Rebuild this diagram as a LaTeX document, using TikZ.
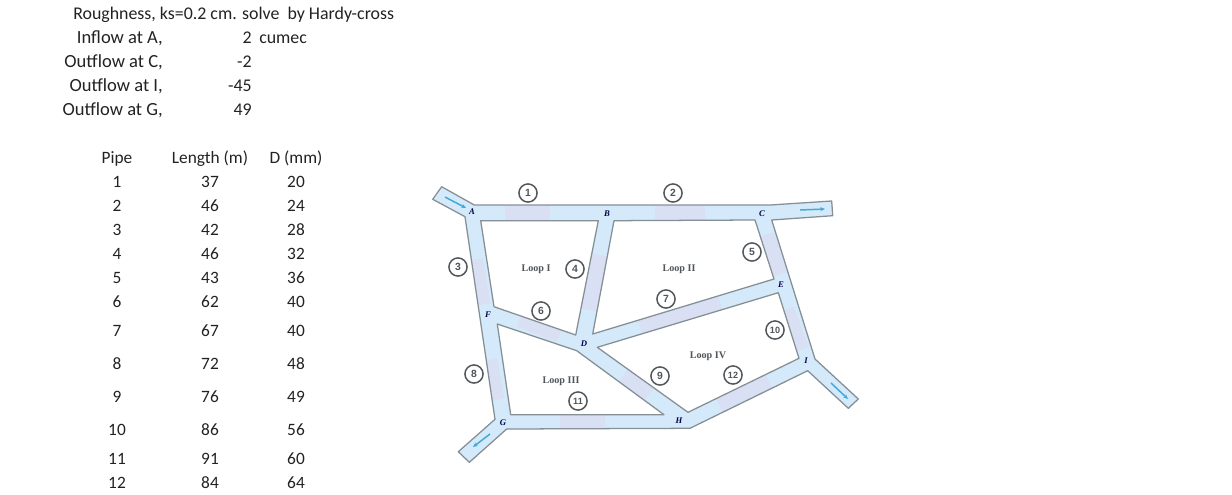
\documentclass[tikz,border=0pt]{standalone}
\usepackage{fontspec}
\setmainfont{Carlito}
\newfontfamily\figserif{Liberation Serif}
\newfontfamily\figsans{Liberation Sans}
\usetikzlibrary{arrows.meta}
\definecolor{pipefill}{HTML}{D4E9F9}
\definecolor{pipepatch}{HTML}{D9E0F3}
\definecolor{pipeline}{HTML}{858F96}
\definecolor{flowblue}{HTML}{3FA9D8}
\definecolor{inktext}{HTML}{222222}
\definecolor{figtext}{HTML}{50555A}
\tikzset{
  txt/.style={inner sep=0pt,text=inktext,font=\fontsize{13}{15}\selectfont,anchor=base},
  htxt/.style={inner sep=0pt,text=inktext,font=\fontsize{13.4}{15}\selectfont,anchor=base},
  rtxt/.style={htxt,anchor=base east},
  ltxt/.style={htxt,anchor=base west},
  lbl/.style={rtxt,font=\fontsize{13.9}{15}\selectfont},
  pipeedge/.style={draw=pipeline,line width=0.95pt,line join=round},
  patch/.style={pipepatch,line width=14pt},
  numc/.style={circle,draw=figtext,line width=1.1pt,fill=white,minimum size=13.6pt,inner sep=0pt,text=figtext,font=\figsans\fontsize{7.8}{8}\bfseries\selectfont},
  numw/.style={numc,font=\figsans\fontsize{6.8}{8}\bfseries\selectfont},
  jlabel/.style={inner sep=0pt,text=black!70!blue,font=\figserif\fontsize{6.5}{7}\bfseries\itshape\selectfont},
  looplabel/.style={inner sep=0pt,text=figtext,font=\figserif\fontsize{7.6}{8}\bfseries\selectfont},
  flow/.style={draw=flowblue,line width=1.1pt,-{Stealth[length=3.5pt,width=3pt]}}
}
\begin{document}
\begin{tikzpicture}[x=0.75pt,y=-0.75pt]
\useasboundingbox (0,0) rectangle (1232,494);
% header
\node[ltxt] (title) at (73,19) {Roughness, ks=0.2 cm. solve\ \ by Hardy-cross};
\node[lbl] (l1) at (163,43) {Inflow at A,};
\node[rtxt] (v1) at (252,43) {2};
\node[ltxt] (u1) at (259,43) {cumec};
\node[lbl] (l2) at (163,67) {Outflow at C,};
\node[rtxt] (v2) at (252,67) {-2};
\node[lbl] (l3) at (163,91) {Outflow at I,};
\node[rtxt] (v3) at (252,91) {-45};
\node[lbl] (l4) at (163,115) {Outflow at G,};
\node[rtxt] (v4) at (252,115) {49};
% table
\node[txt] (hp) at (117,163) {Pipe};
\node[txt] (hl) at (210,163) {Length (m)};
\node[txt] (hd) at (296,163) {D (mm)};
\foreach \n/\len/\dia/\yy in {1/37/20/187,2/46/24/211,3/42/28/235,4/46/32/259,5/43/36/283,6/62/40/307,7/67/40/336,8/72/48/369,9/76/49/402,10/86/56/435,11/91/60/464,12/84/64/488}{
  \node[txt] (p\n) at (117,\yy) {\n};
  \node[txt] (len\n) at (210,\yy) {\len};
  \node[txt] (dia\n) at (296,\yy) {\dia};
}
% pipe network body, with its tinted stretches clipped to it
\begin{scope}
\clip (441.7,186.7) -- (474.3,205) -- (770,205) -- (831.7,201) -- (832.7,215.7) -- (771.7,220) -- (815,359) -- (858.3,399) -- (848.3,408.3) -- (807.7,370.7) -- (690,428.3) -- (506.7,429) -- (469.3,462.3) -- (458.3,451.7) -- (495,419.3) -- (465,216.7) -- (432.7,199.3) -- cycle;
\fill[pipefill] (420,170) rectangle (870,480);
\draw[patch] (505,213) -- (550,213);
\draw[patch] (655,213) -- (705,213);
\draw[patch] (474,260) -- (481,305);
\draw[patch] (600,255) -- (590,310);
\draw[patch] (765,235) -- (778,275);
\draw[patch] (520,318) -- (560,333);
\draw[patch] (640,327) -- (720,302);
\draw[patch] (488,360) -- (495,400);
\draw[patch] (625,373) -- (650,393);
\draw[patch] (785,310) -- (800,350);
\draw[patch] (560,422) -- (605,422);
\draw[patch] (720,407) -- (770,384);
\end{scope}
% outer outline
\draw[pipeedge] (432.7,199.3) -- (441.7,186.7) -- (474.3,205) -- (770,205) -- (831.7,201) -- (832.7,215.7) -- (771.7,220) -- (815,359) -- (858.3,399) -- (848.3,408.3) -- (807.7,370.7) -- (690,428.3) -- (506.7,429) -- (469.3,462.3) -- (458.3,451.7) -- (495,419.3) -- (465,216.7) -- cycle;
% loops
\draw[pipeedge,fill=white] (480.7,220.7) -- (598.3,220.7) -- (575.7,335) -- (494,306.7) -- cycle;
\draw[pipeedge,fill=white] (614,220.7) -- (755,220) -- (774,279) -- (592.7,334) -- cycle;
\draw[pipeedge,fill=white] (497.3,324) -- (576.7,350.7) -- (664,414.7) -- (510.7,414.7) -- cycle;
\draw[pipeedge,fill=white] (597.3,347.3) -- (778.3,292.7) -- (799,358.3) -- (688,412.3) -- cycle;
% flow arrows
\coordinate (inA1) at (445,197); \coordinate (inA2) at (466,208);
\coordinate (outC1) at (800,210); \coordinate (outC2) at (825,209);
\coordinate (outI1) at (831,383); \coordinate (outI2) at (848,399);
\coordinate (outG1) at (490,434); \coordinate (outG2) at (473,447);
\draw[flow] (inA1) -- (inA2);
\draw[flow] (outC1) -- (outC2);
\draw[flow] (outI1) -- (outI2);
\draw[flow] (outG1) -- (outG2);
% junctions
\node[jlabel] (A) at (472,212) {A};
\node[jlabel] (B) at (607,214) {B};
\node[jlabel] (C) at (762,214) {C};
\node[jlabel] (D) at (584,344) {D};
\node[jlabel] (E) at (781,285) {E};
\node[jlabel] (F) at (488,315) {F};
\node[jlabel] (G) at (503,423) {G};
\node[jlabel] (H) at (679,421) {H};
\node[jlabel] (I) at (806,361) {I};
% pipe numbers
\node[numc] (c1) at (528,193) {1};
\node[numc] (c2) at (673,193) {2};
\node[numc] (c3) at (458,267) {3};
\node[numc] (c4) at (575,269) {4};
\node[numc] (c5) at (752,252) {5};
\node[numc] (c6) at (541,311) {6};
\node[numc] (c7) at (666,299) {7};
\node[numc] (c8) at (474,374) {8};
\node[numc] (c9) at (660,376) {9};
\node[numw] (c10) at (775,330) {10};
\node[numw] (c11) at (578,401) {11};
\node[numw] (c12) at (733,375) {12};
% loop names
\node[looplabel] (L1) at (536,269) {Loop I};
\node[looplabel] (L2) at (679,269) {Loop II};
\node[looplabel] (L3) at (561,381) {Loop III};
\node[looplabel] (L4) at (708,356) {Loop IV};
\end{tikzpicture}
\end{document}
